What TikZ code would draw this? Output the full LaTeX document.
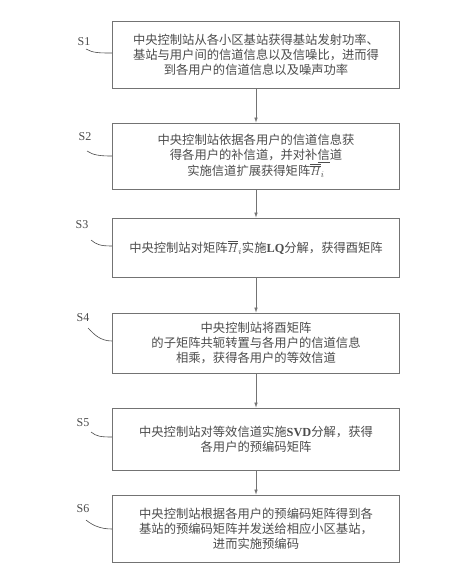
\documentclass[tikz,border=0pt]{standalone}
\usepackage{fontspec}
\setmainfont{Liberation Serif}
\newfontfamily\cjk{Noto Sans CJK SC}
\usetikzlibrary{arrows.meta,calc}
\definecolor{ink}{gray}{0.3}
\definecolor{edge}{gray}{0.45}
\begin{document}
\begin{tikzpicture}[x=1pt,y=-1pt,
  stepbox/.style={draw=edge,line width=0.8pt,minimum width=287pt,inner sep=0pt,
    align=center,text=ink,font=\cjk\fontsize{12.3}{15}\selectfont},
  lbl/.style={text=ink,font=\fontsize{12}{14}\selectfont,inner sep=0pt},
  flow/.style={draw=edge,line width=0.6pt,-{Latex[length=5pt,width=3.5pt]}},
  hook/.style={draw=ink,line width=0.6pt}]
\useasboundingbox (0,0) rectangle (474,576);
\fill[white] (0,0) rectangle (474,576);

\node[stepbox,minimum height=67pt] (b1) at (256,54.5)
  {中央控制站从各小区基站获得基站发射功率、\\基站与用户间的信道信息以及信噪比，进而得\\到各用户的信道信息以及噪声功率};
\node[stepbox,minimum height=66pt] (b2) at (256,156)
  {中央控制站依据各用户的信道信息获\\得各用户的补信道，并对补\underline{信}道\\实施信道扩展获得矩阵$\overline{\overline{H}}_{i}$};
\node[stepbox,minimum height=59pt] (b3) at (256,247.5)
  {中央控制站对矩阵$\overline{\overline{H}}_{i}$实施{\rmfamily\bfseries LQ}分解，获得酉矩阵};
\node[stepbox,minimum height=60pt] (b4) at (256,343)
  {中央控制站将酉矩阵\\的子矩阵共轭转置与各用户的信道信息\\相乘，获得各用户的等效信道};
\node[stepbox,minimum height=62pt] (b5) at (256,439)
  {中央控制站对等效信道实施{\rmfamily\bfseries SVD}分解，获得\\各用户的预编码矩阵};
\node[stepbox,minimum height=67pt] (b6) at (256,528.5)
  {中央控制站根据各用户的预编码矩阵得到各\\基站的预编码矩阵并发送给相应小区基站，\\进而实施预编码};

\draw[flow] (b1) -- (b2);
\draw[flow] (b2) -- (b3);
\draw[flow] (b3) -- (b4);
\draw[flow] (b4) -- (b5);
\draw[flow] (b5) -- (b6);

\node[lbl] (l1) at (84,41.5) {S1};
\node[lbl] (l2) at (85,137) {S2};
\node[lbl] (l3) at (82,225) {S3};
\node[lbl] (l4) at (83,318) {S4};
\node[lbl] (l5) at (83,423) {S5};
\node[lbl] (l6) at (83,509) {S6};

\coordinate (s1) at (86,49);  \coordinate (e1) at (b1.west |- 0,53);
\coordinate (s2) at (87,151); \coordinate (e2) at (b2.west |- 0,156);
\coordinate (s3) at (91,240); \coordinate (e3) at (b3.west |- 0,246);
\coordinate (s4) at (88,328); \coordinate (e4) at (b4.west |- 0,341);
\coordinate (s5) at (91,432); \coordinate (e5) at (b5.west |- 0,437);
\coordinate (s6) at (86,520); \coordinate (e6) at (b6.west |- 0,529);
\foreach \i in {1,...,6}{
  \draw[hook] (s\i) .. controls ($(s\i)!0.25!(e\i)+(0,3)$) and ($(e\i)+(-12,0)$) .. (e\i);
}
\end{tikzpicture}
\end{document}
